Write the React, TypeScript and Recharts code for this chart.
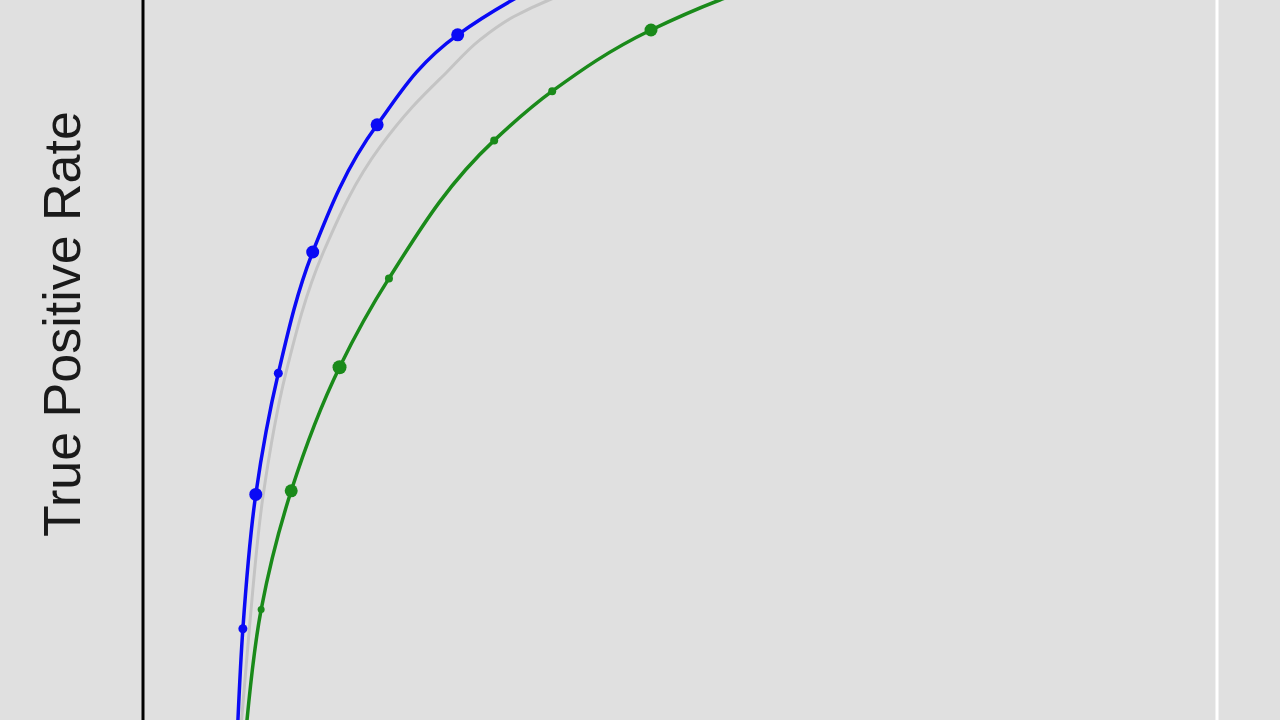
import { LineChart, Line, XAxis, YAxis, ReferenceLine, Label } from "recharts";

// values (false positive rate / true positive rate)
const blueFpr = [0.088, 0.093, 0.105, 0.126, 0.158, 0.218, 0.293, 0.344, 0.407];
const blueTpr = [0.292, 0.376, 0.488, 0.589, 0.69, 0.796, 0.871, 0.9, 0.929];

const greenFpr = [0.096, 0.11, 0.138, 0.183, 0.229, 0.327, 0.381, 0.473, 0.537, 0.612];
const greenTpr = [0.292, 0.392, 0.491, 0.594, 0.668, 0.783, 0.824, 0.875, 0.9, 0.923];

const grayFpr = [0.091, 0.099, 0.112, 0.133, 0.168, 0.221, 0.251, 0.283, 0.314, 0.345, 0.378, 0.463];
const grayTpr = [0.292, 0.376, 0.488, 0.589, 0.69, 0.778, 0.811, 0.84, 0.867, 0.886, 0.9, 0.925];

const yLabel = "True Positive Rate";

const toRows = (fpr: number[], tpr: number[]) => fpr.map((x, i) => ({ fpr: x, tpr: tpr[i] }));

const blueData = toRows(blueFpr, blueTpr);
const greenData = toRows(greenFpr, greenTpr);
const grayData = toRows(grayFpr, grayTpr);

// marker radius per point index (points without an entry have no marker)
const blueDots: Record<number, number> = { 1: 4.5, 2: 6.5, 3: 4.5, 4: 6.5, 5: 6.5, 6: 6.5 };
const greenDots: Record<number, number> = { 1: 3.5, 2: 6.5, 3: 7, 4: 4, 5: 4, 6: 4, 7: 6.5 };

const makeDot = (sizes: Record<number, number>, color: string, id: string) => (p: any) => {
  const r = sizes[p.index];
  if (!r) return <g key={`${id}-${p.index}`} />;
  return <circle key={`${id}-${p.index}`} cx={p.cx} cy={p.cy} r={r} fill={color} stroke="none" />;
};

const renderYLabel = () => (
  <text
    transform="translate(80,324) rotate(-90)"
    textAnchor="middle"
    fontSize={52}
    fontFamily="'Liberation Sans', Arial, sans-serif"
    fill="#1a1a1a"
  >
    {yLabel}
  </text>
);

export default function App() {
  return (
    <div style={{ position: "absolute", left: 0, top: 0, width: 1280, height: 720, background: "#e0e0e0" }}>
      <LineChart width={1280} height={720} margin={{ top: 0, right: 63, bottom: 0, left: 0 }}>
        <XAxis type="number" dataKey="fpr" domain={[0, 1]} allowDataOverflow hide />
        <YAxis
          type="number"
          dataKey="tpr"
          domain={[0.3, 0.9]}
          allowDataOverflow
          width={143}
          tick={false}
          tickLine={false}
          axisLine={{ stroke: "#000", strokeWidth: 3 }}
        >
          <Label content={renderYLabel} />
        </YAxis>
        <ReferenceLine x={1} stroke="#ffffff" strokeWidth={3} ifOverflow="visible" />
        <Line
          data={grayData}
          dataKey="tpr"
          type="monotoneY"
          stroke="#c4c4c4"
          strokeWidth={3}
          dot={false}
          isAnimationActive={false}
        />
        <Line
          data={greenData}
          dataKey="tpr"
          type="monotoneY"
          stroke="#1a8a1a"
          strokeWidth={3.5}
          dot={makeDot(greenDots, "#1a8a1a", "g")}
          activeDot={false}
          isAnimationActive={false}
        />
        <Line
          data={blueData}
          dataKey="tpr"
          type="monotoneY"
          stroke="#0a0af5"
          strokeWidth={3.5}
          dot={makeDot(blueDots, "#0a0af5", "b")}
          activeDot={false}
          isAnimationActive={false}
        />
      </LineChart>
    </div>
  );
}
